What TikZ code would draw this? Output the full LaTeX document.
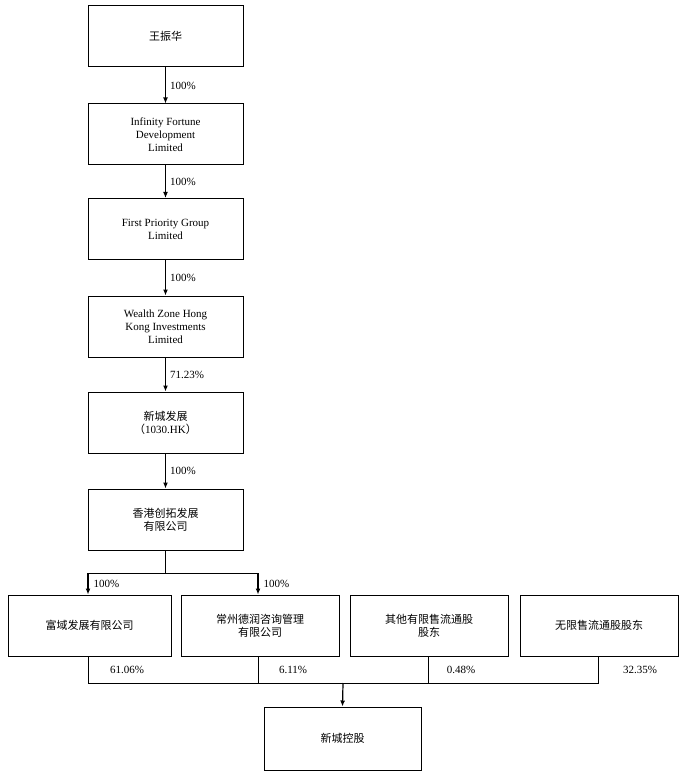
\documentclass[tikz,border=0pt]{standalone}
\usepackage{fontspec}
\usetikzlibrary{arrows.meta}
\setmainfont{Liberation Serif}
\newfontfamily\cjk{Noto Sans CJK SC}
\begin{document}
\begin{tikzpicture}[x=1pt,y=-1pt,
  box/.style={draw,line width=1pt,minimum width=155pt,minimum height=61pt,align=center,font=\fontsize{11}{13}\selectfont,inner sep=1pt},
  sbox/.style={box,minimum width=158pt},
  pct/.style={font=\fontsize{11}{13}\selectfont,inner sep=1pt},
  arr/.style={line width=1.2pt,-{Latex[length=6pt,width=5pt]}},
  ln/.style={line width=1pt}]
\useasboundingbox (0,0) rectangle (684,775);
\node[box] (b1) at (165.5,36.5) {\cjk 王振华};
\node[box] (b2) at (165.5,134.5) {Infinity Fortune\\Development\\Limited};
\node[box] (b3) at (165.5,229) {First Priority Group\\Limited};
\node[box] (b4) at (165.5,326.5) {Wealth Zone Hong\\Kong Investments\\Limited};
\node[box] (b5) at (165.5,422.5) {{\cjk 新城发展}\\{\cjk （}1030.HK{\cjk ）}};
\node[box] (b6) at (165.5,519.5) {{\cjk 香港创拓发展}\\{\cjk 有限公司}};
\draw[arr] (b1) -- (b2) node[pct,midway,right=3pt] {100\%};
\draw[arr] (b2) -- (b3) node[pct,midway,right=3pt] {100\%};
\draw[arr] (b3) -- (b4) node[pct,midway,right=3pt] {100\%};
\draw[arr] (b4) -- (b5) node[pct,midway,right=3pt] {71.23\%};
\draw[arr] (b5) -- (b6) node[pct,midway,right=3pt] {100\%};
\node[sbox,minimum width=163pt] (s1) at (89.5,625.5) {\cjk 富域发展有限公司};
\node[sbox] (s2) at (260,625.5) {{\cjk 常州德润咨询管理}\\{\cjk 有限公司}};
\node[sbox] (s3) at (429,625.5) {{\cjk 其他有限售流通股}\\{\cjk 股东}};
\node[sbox] (s4) at (599,625.5) {\cjk 无限售流通股股东};
\node[box,minimum width=157pt,minimum height=63pt] (f) at (342.5,738.5) {\cjk 新城控股};
\coordinate (j1) at (165.5,573);
\coordinate (jl) at (88,573);
\coordinate (jr) at (258,573);
\draw[ln] (b6.south) -- (j1);
\draw[ln] (jl) -- (jr);
\draw[arr] (jl) -- (jl|-s1.north) node[pct,midway,right=4pt] {100\%};
\draw[arr] (jr) -- (jr|-s2.north) node[pct,midway,right=4pt] {100\%};
\coordinate (h1) at (88,683);
\coordinate (h4) at (598,683);
\coordinate (hm) at (343,683);
\draw[ln] (h1|-s1.south) -- (h1) -- (h4) -- (h4|-s4.south);
\draw[ln] (258,656) -- (258,683);
\draw[ln] (428,656) -- (428,683);
\draw[arr] (hm) -- (f.north);
\node[pct] at (127,670) {61.06\%};
\node[pct] at (293,670) {6.11\%};
\node[pct] at (461,670) {0.48\%};
\node[pct] at (640,670) {32.35\%};
\end{tikzpicture}
\end{document}
